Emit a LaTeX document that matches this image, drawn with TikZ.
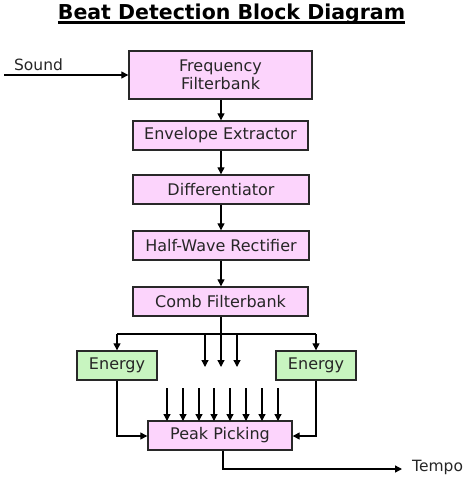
\documentclass[tikz,border=0pt]{standalone}
\usepackage{fontspec}
\setmainfont{DejaVu Sans}
\usetikzlibrary{arrows.meta}
\definecolor{boxpink}{RGB}{252,212,252}
\definecolor{boxgreen}{RGB}{200,245,192}
\definecolor{edgegray}{RGB}{40,40,40}
\newcommand{\myuline}[1]{{\setbox0\hbox{#1}\rlap{\vrule height -2pt depth 4.2pt width \wd0}\box0}}
\tikzset{
  blk/.style={draw=edgegray, line width=1.4pt, fill=boxpink, inner sep=0pt,
    minimum height=29pt, align=center, font=\fontsize{16}{17.5}\selectfont, text=black!85},
  grn/.style={blk, fill=boxgreen, minimum width=80pt},
  conn/.style={line width=1.3pt, black},
  arr/.style={conn, -{Triangle[length=7pt,width=7pt]}},
  lbl/.style={font=\fontsize{15.5}{17}\selectfont, inner sep=0pt, text=black!85}
}
\begin{document}
\begin{tikzpicture}[x=1pt,y=-1pt]
\useasboundingbox (0,0) rectangle (474,481);
\node[inner sep=0pt, anchor=base, font=\fontsize{20.5}{24}\selectfont\bfseries] (title) at (231.5,19.5)
  {\myuline{Beat Detection Block Diagram}};
\node[blk, minimum width=183pt, minimum height=48pt] (freq) at (220.5,75) {Frequency\\Filterbank};
\node[blk, minimum width=175pt] (env) at (220.5,135.5) {Envelope Extractor};
\node[blk, minimum width=176pt] (diff) at (221,189.5) {Differentiator};
\node[blk, minimum width=176pt] (half) at (221,245.5) {Half-Wave Rectifier};
\node[blk, minimum width=175pt] (comb) at (220.5,301.5) {Comb Filterbank};
\node[grn] (enl) at (117,365.5) {Energy};
\node[grn] (enr) at (316,365.5) {Energy};
\node[blk, minimum width=144pt] (peak) at (220,435.5) {Peak Picking};
\node[lbl] (sound) at (38.5,64.5) {Sound};
\node[lbl, anchor=west] (tempo) at (412,467.5) {Tempo};
\coordinate (sin) at (4,75);
\coordinate (tout) at (402,469);
% main chain
\draw[arr] (sin) -- (freq.west |- sin);
\draw[arr] (freq.south -| 221,0) -- (env.north -| 221,0);
\draw[arr] (env.south -| 221,0) -- (diff.north -| 221,0);
\draw[arr] (diff.south -| 221,0) -- (half.north -| 221,0);
\draw[arr] (half.south -| 221,0) -- (comb.north -| 221,0);
% branches
\coordinate (bj) at (221,334);
\draw[conn] (comb.south -| bj) -- (bj);
\draw[conn] (enl.north |- bj) -- (enr.north |- bj);
\draw[arr] (enl.north |- bj) -- (enl.north);
\draw[arr] (enr.north |- bj) -- (enr.north);
\foreach \xx in {205,221,237} \draw[arr] (\xx,334) -- (\xx,367);
\foreach \xx in {167,183,199,214,230,246,262,278} \draw[arr] (\xx,388) -- (\xx,421);
\draw[arr] (enl.south) |- (peak.west |- 0,436);
\draw[arr] (enr.south) |- (peak.east |- 0,436);
\draw[arr] (peak.south -| 223,0) |- (tout);
\end{tikzpicture}
\end{document}
